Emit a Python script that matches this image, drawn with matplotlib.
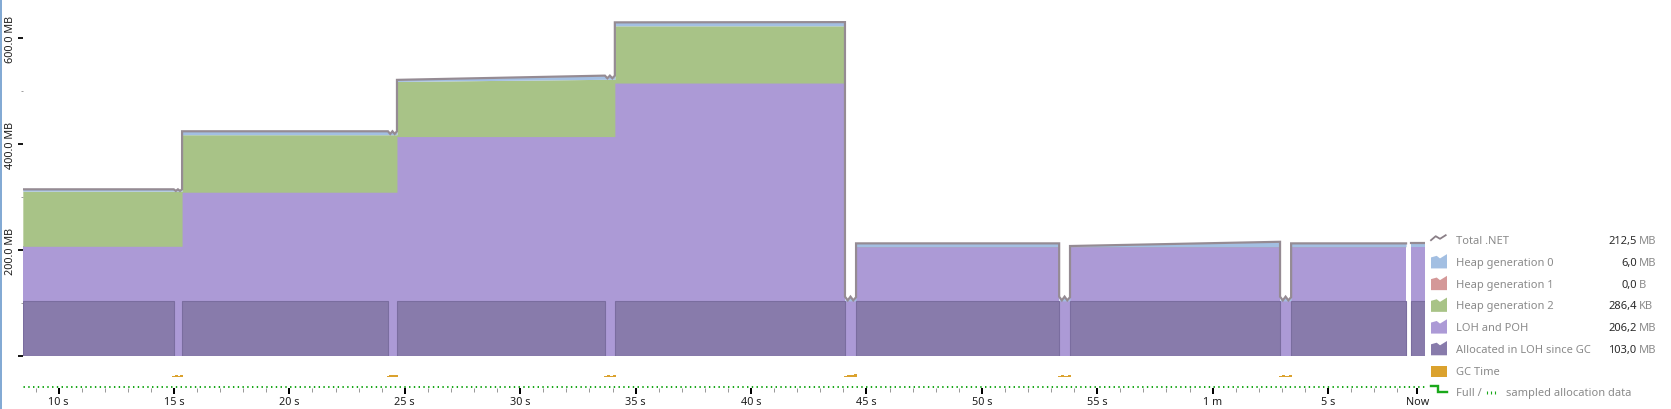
import numpy as np
import matplotlib
matplotlib.use("Agg")
import matplotlib.pyplot as plt
from matplotlib.lines import Line2D
from matplotlib.patches import Polygon, Rectangle

plt.rcParams['font.family'] = ['Noto Sans', 'DejaVu Sans']
plt.rcParams['lines.scale_dashes'] = False

# ---------------- data ----------------
# continuous sampled segments (seconds on the session timeline)
seg_start = [8.45, 15.35, 24.66, 34.10, 44.55, 53.82, 63.40, 68.60]
seg_end = [14.99, 24.27, 33.67, 44.07, 53.35, 62.92, 68.38, 69.20]
# memory per segment in MB (start / end values where it drifts)
loh_poh_mb = [207.0, 309.0, 414.0, 515.0, 206.2, 206.2, 206.2, 206.2]
gen2_start_mb = [104.0, 108.5, 104.0, 108.0, 0.3, 0.3, 0.3, 0.3]
gen2_end_mb = [104.0, 108.5, 108.0, 108.0, 0.3, 0.3, 0.3, 0.3]
gen0_start_mb = [3.5, 6.5, 3.0, 6.5, 6.0, 1.0, 6.0, 6.0]
gen0_end_mb = [3.5, 6.5, 7.0, 7.0, 6.0, 9.0, 6.0, 6.0]
alloc_loh_mb = [103.0, 103.0, 103.0, 103.0, 103.0, 103.0, 103.0, 103.0]

# garbage collections between consecutive segments
gc_loh_mb = [207.0, 309.0, 414.0, 104.0, 104.0, 104.0]
gc_gen2_mb = [104.0, 108.5, 108.0, 0.0, 0.0, 0.0]
gc_total_mb = [
    [314.5, 311.5, 314.5, 311.5, 314.5],
    [424.0, 419.0, 424.0, 419.0, 424.0],
    [529.0, 524.0, 529.0, 524.0, 529.0],
    [112.0, 105.0, 112.0, 105.0, 111.0],
    [112.0, 105.0, 112.0, 105.0, 111.0],
    [112.0, 105.0, 112.0, 105.0, 111.0],
]
gc_time_level = [
    [1.5, 2.5, 1.5, 2.5, 1.5],
    [1.5, 2.5, 2.5, 2.5, 1.5],
    [1.5, 2.5, 1.5, 2.5, 1.5],
    [1.5, 2.0, 2.5, 3.5, 1.5],
    [1.5, 2.5, 1.5, 2.5, 1.5],
    [1.5, 2.5, 1.5, 2.5, 1.5],
]

# axis ticks
mem_ticks_mb = [0, 200, 400, 600]
mem_tick_labels = ['', '200.0 MB', '400.0 MB', '600.0 MB']
mem_minor_mb = [100, 300, 500]
time_ticks_s = [10, 15, 20, 25, 30, 35, 40, 45, 50, 55, 60, 65, 68.87]
time_tick_labels = ['10 s', '15 s', '20 s', '25 s', '30 s', '35 s', '40 s',
                    '45 s', '50 s', '55 s', '1 m', '5 s', 'Now']
time_minor_s = list(range(9, 69))

# legend
legend_names = ['Total .NET', 'Heap generation 0', 'Heap generation 1',
                'Heap generation 2', 'LOH and POH', 'Allocated in LOH since GC',
                'GC Time', 'Full /']
legend_values = ['212,5', '6,0', '0,0', '286,4', '206,2', '103,0']
legend_units = ['MB', 'MB', 'B', 'KB', 'MB', 'MB']

# ---------------- style ----------------
C_LOH = '#ac9ad6'
C_GEN2 = '#a8c387'
C_GEN0 = '#a3bfe2'
C_GEN1 = '#d49898'
C_ALLOC = '#887bab'
C_ALLOC_EDGE = '#7a6d9f'
C_TOTAL = '#958b93'
C_GC = '#dba22e'
C_SAMPLED = '#1aa81a'
C_LEGTXT = '#8a8a8a'

W, H, DPI = 1671, 410, 100
fig = plt.figure(figsize=(W / DPI, H / DPI), dpi=DPI)
fig.patch.set_facecolor('white')

PL, PR = 23, 1425          # plot left/right in px
Y0 = 357                   # px row of 0 MB
PX_PER_MB = 0.53
XLIM = (8.458, 69.20)


def px2pt(p):
    return p * 72.0 / DPI


# ---------------- main chart ----------------
ax = fig.add_axes([PL / W, (H - Y0) / H, (PR - PL) / W, Y0 / H])
ax.set_xlim(*XLIM)
ax.set_ylim(0, Y0 / PX_PER_MB)
for s in ax.spines.values():
    s.set_visible(False)
ax.set_xticks([])


def build_run(idx):
    xs, loh, g2, tot = [], [], [], []
    for k, i in enumerate(idx):
        xs += [seg_start[i], seg_end[i]]
        loh += [loh_poh_mb[i]] * 2
        g2a = loh_poh_mb[i] + gen2_start_mb[i]
        g2b = loh_poh_mb[i] + gen2_end_mb[i]
        g2 += [g2a, g2b]
        tot += [g2a + gen0_start_mb[i], g2b + gen0_end_mb[i]]
        if k < len(idx) - 1:
            wave = gc_total_mb[i]
            ts = np.linspace(seg_end[i], seg_start[i + 1], len(wave))
            xs += list(ts)
            loh += [gc_loh_mb[i]] * len(wave)
            g2 += [gc_loh_mb[i] + gc_gen2_mb[i]] * len(wave)
            tot += list(wave)
    return np.array(xs), np.array(loh), np.array(g2), np.array(tot)


runs = [list(range(0, 7)), [7]]
for run in runs:
    xs, loh, g2, tot = build_run(run)
    ax.fill_between(xs, 0, loh, color=C_LOH, lw=0, zorder=1)
    ax.fill_between(xs, loh, g2, color=C_GEN2, lw=0, zorder=1)
    ax.fill_between(xs, g2, tot, color=C_GEN0, lw=0, zorder=1)
    ax.plot(xs, tot, color=C_TOTAL, lw=px2pt(2.2), zorder=5,
            solid_joinstyle='miter')

widths = np.subtract(seg_end, seg_start)
ax.bar(seg_start, alloc_loh_mb, width=widths, align='edge', color=C_ALLOC,
       edgecolor=C_ALLOC_EDGE, linewidth=0.8, zorder=3)

ax.set_yticks(mem_ticks_mb)
ax.set_yticklabels(mem_tick_labels, rotation=90, va='center', fontsize=7.8,
                   color='#1e1e1e')
ax.set_yticks(mem_minor_mb, minor=True)
ax.tick_params(axis='y', which='major', direction='out', length=px2pt(5),
               width=px2pt(1.8), color='black', pad=px2pt(2))
ax.tick_params(axis='y', which='minor', direction='out', length=px2pt(2.5),
               width=px2pt(1), color='#a0a0a0')

# ---------------- time line (GC time, sampling, time axis) ----------------
TL_BOTTOM, TL_TOP = 389, 362
axt = fig.add_axes([PL / W, (H - TL_BOTTOM) / H, (PR - PL) / W,
                    (TL_BOTTOM - TL_TOP) / H])
axt.set_xlim(*XLIM)
axt.set_ylim(0, TL_BOTTOM - TL_TOP)
axt.patch.set_alpha(0)
for s in axt.spines.values():
    s.set_visible(False)
axt.set_yticks([])

for i, lev in enumerate(gc_time_level):
    ts = np.linspace(seg_end[i] - 0.06, seg_start[i + 1] + 0.04, len(lev))
    axt.fill_between(ts, 11, 11 + np.array(lev), step='post', color=C_GC, lw=0)

axt.plot([seg_start[0], seg_end[-1]], [1.5, 1.5], color=C_SAMPLED,
         lw=px2pt(3), dashes=(px2pt(1.4), px2pt(3.36)), solid_capstyle='butt',
         dash_capstyle='butt')

axt.set_xticks(time_ticks_s)
axt.set_xticklabels(time_tick_labels, fontsize=7.8, color='#1e1e1e')
axt.set_xticks(time_minor_s, minor=True)
axt.tick_params(axis='x', which='major', direction='out', length=px2pt(6),
                width=px2pt(2), color='black', pad=px2pt(2))
axt.tick_params(axis='x', which='minor', direction='out', length=px2pt(4),
                width=px2pt(1), color='#9a9a9a')

# ---------------- legend (pixel coordinates) ----------------
axl = fig.add_axes([0, 0, 1, 1])
axl.set_xlim(0, W)
axl.set_ylim(H, 0)
axl.axis('off')

ROW0, DROW = 241.7, 21.72
IX, TX = 1431, 1455.7
NUM_X, UNIT_X = 1636.5, 1638.5
icon_colors = [C_GEN0, C_GEN1, C_GEN2, C_LOH, C_ALLOC]

for r, name in enumerate(legend_names):
    y = ROW0 + r * DROW
    axl.text(TX, y, name, fontsize=8, color=C_LEGTXT, va='center', ha='left')
    if r < len(legend_values):
        axl.text(NUM_X, y, legend_values[r], fontsize=8, color='#2a2a2a',
                 va='center', ha='right')
        axl.text(UNIT_X, y, legend_units[r], fontsize=8, color=C_LEGTXT,
                 va='center', ha='left')
    if r == 0:
        axl.plot(IX + np.array([0, 4.7, 9, 14.7]),
                 y + np.array([-0.5, -4.5, -1.9, -5.5]),
                 color='#8a7f87', lw=px2pt(1.8))
    elif 1 <= r <= 5:
        pts = np.array([(0, 6), (0, -5), (5.7, -6.6), (9, -4), (16, -8.3), (16, 6)])
        pts = pts + np.array([IX, y])
        axl.add_patch(Polygon(pts, closed=True, facecolor=icon_colors[r - 1],
                              edgecolor='none'))
    elif r == 6:
        axl.add_patch(Rectangle((IX, y - 5), 16, 11.3, facecolor=C_GC,
                                edgecolor='none'))
    elif r == 7:
        axl.plot(IX + np.array([0, 7.3, 7.3, 16]),
                 y + np.array([-6.4, -6.4, -0.4, -0.4]),
                 color=C_SAMPLED, lw=px2pt(2.4), solid_joinstyle='miter')

ylast = ROW0 + 7 * DROW
axl.vlines([1487, 1491, 1495], ylast - 1.3, ylast + 1.5, color=C_SAMPLED,
           lw=px2pt(1.1))
axl.text(1505.5, ylast, 'sampled allocation data', fontsize=8, color=C_LEGTXT,
         va='center', ha='left')

# window border on the left edge
fig.add_artist(Line2D([0.6 / W, 0.6 / W], [0, 1], color='#5b8fc7', lw=px2pt(1.5)))

fig.savefig('out.png', dpi=DPI, facecolor='white')
